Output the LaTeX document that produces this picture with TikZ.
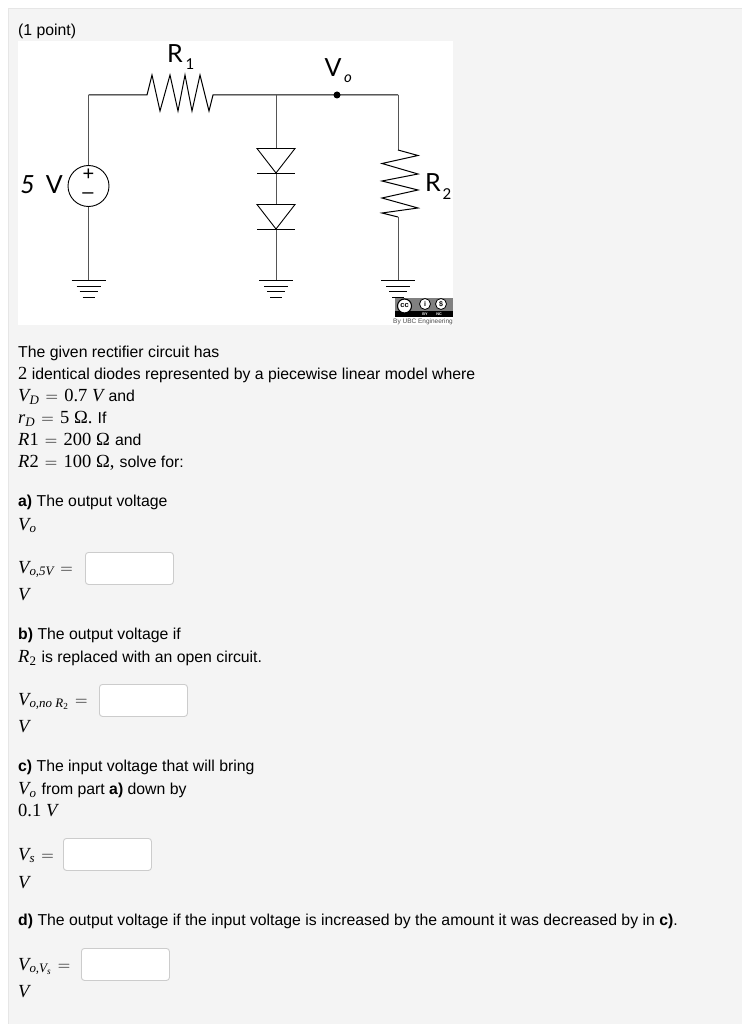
\documentclass[tikz,border=0pt]{standalone}
\usepackage{amsmath}
\usepackage{fontspec}
\setmainfont{Liberation Sans}
\newfontfamily\serifmath{Liberation Serif}
\newfontfamily\handfont{Lato}
\usetikzlibrary{positioning}
\definecolor{panelgray}{HTML}{F4F4F4}
\definecolor{panelline}{HTML}{E6E6E6}
\definecolor{wiregray}{HTML}{555555}
\definecolor{boxline}{HTML}{CCCCCC}
\newcommand{\mv}[1]{\text{\serifmath\itshape #1}}
\newcommand{\mr}[1]{\text{\serifmath #1}}
\newcommand{\seteq}{\mathrel{\mkern1.5mu=\mkern1.5mu}}
\newcommand{\mathsz}{\fontsize{18.5}{20}\selectfont}
\newcommand{\textsz}{\fontsize{15.8}{17}\selectfont}
\tikzset{
    txt/.style={anchor=base west,inner sep=0pt,yshift=-0.7pt,font=\textsz},
    mth/.style={anchor=base west,inner sep=0pt,font=\mathsz},
    hand/.style={inner sep=0pt,font=\handfont\fontsize{25}{28}\selectfont},
    handsub/.style={inner sep=0pt,font=\handfont\fontsize{15}{15}\selectfont},
    wire/.style={draw=wiregray,line width=1pt},
    topwire/.style={draw=black,line width=1pt},
    part/.style={draw=black,line width=0.9pt},
    badgeicon/.style={circle,draw=black,line width=0.8pt,fill=white,minimum size=11pt,inner sep=0pt,font=\bfseries\fontsize{7}{7}\selectfont},
    badgetag/.style={inner sep=0pt,text=white,font=\bfseries\fontsize{3.8}{4}\selectfont},
    answerbox/.style={draw=boxline,fill=white,rounded corners=3pt,line width=0.9pt,minimum width=88pt,minimum height=32pt,inner sep=0pt,anchor=north west},
}
\begin{document}
\begin{tikzpicture}[x=1pt,y=-1pt]
    \useasboundingbox (0,0) rectangle (742,1024);
    \fill[white] (0,0) rectangle (742,1024);
    \fill[panelgray] (8,8) rectangle (742,1024);
    \draw[panelline] (8,1024) -- (8,8) -- (742,8);
    \fill[white] (18,41) rectangle (453,325);
    % circuit points
    \coordinate (topleft) at (88.5,95);
    \coordinate (rone_in) at (147,95);
    \coordinate (rone_out) at (213,95);
    \coordinate (djoin) at (276,95);
    \coordinate (topright) at (398,95);
    \coordinate (rtwo_in) at (398,150);
    \coordinate (rtwo_out) at (398,217);
    \coordinate (gnd_a) at (88.5,280.5);
    \coordinate (gnd_b) at (276,280.5);
    \coordinate (gnd_c) at (398,280.5);
    \coordinate (done_top) at (276,148.5);
    \coordinate (done_bar) at (276,173);
    \coordinate (dtwo_top) at (276,204.5);
    \coordinate (dtwo_bar) at (276,229);
    \node[circle,part,fill=white,minimum size=41pt,inner sep=0pt] (source) at (88.5,186) {};
    \node[circle,fill=black,minimum size=7pt,inner sep=0pt] (vodot) at (337,95) {};
    \draw[topwire] (topleft) -- (rone_in) -- (152,75) -- (160,111) -- (170,75) -- (178,111) -- (185,75) -- (192,111) -- (200,75) -- (209,111) -- (rone_out) -- (topright);
    \draw[wire] (topleft) -- (source);
    \draw[wire] (source) -- (gnd_a);
    \draw[wire] (djoin) -- (done_top);
    \draw[wire] (done_bar) -- (dtwo_top);
    \draw[wire] (dtwo_bar) -- (gnd_b);
    \draw[wire] (topright) -- (rtwo_in);
    \draw[wire] (rtwo_out) -- (gnd_c);
    \draw[topwire] (rtwo_in) -- (418,155.5) -- (382,163.5) -- (418,174) -- (382,181) -- (418,190) -- (382,198) -- (418,208) -- (382,213) -- (rtwo_out);
    % diodes
    \foreach \dtop/\dbar in {done_top/done_bar,dtwo_top/dtwo_bar}{
        \draw[part] (\dtop) ++(-19,0) -- ++(38,0) -- (\dbar) -- cycle;
        \draw[part] (\dbar) ++(-19,0) -- ++(38,0);
    }
    % grounds
    \foreach \gnd in {gnd_a,gnd_b,gnd_c}{
        \draw[part] (\gnd) ++(-17,0) -- ++(34,0);
        \draw[part] (\gnd) ++(-12,5.5) -- ++(24,0);
        \draw[part] (\gnd) ++(-9,11) -- ++(18,0);
        \draw[part] (\gnd) ++(-6,16.5) -- ++(12,0);
    }
    \node[inner sep=0pt,font=\fontsize{20}{20}\selectfont] (plus) at (88.5,175) {+};
    \node[inner sep=0pt,font=\fontsize{20}{20}\selectfont] (minus) at (88,196) {\textendash};
    % hand labels
    \node[hand] (rone) at (175,54) {R};
    \node[handsub] (rone_sub) at (190,64) {1};
    \node[hand] (vo) at (333,68) {V};
    \node[handsub,font=\handfont\itshape\fontsize{15}{15}\selectfont] (vo_sub) at (348,79) {o};
    \node[hand] (fivev) at (41.5,185) {\textit{5}\hspace{11pt}V};
    \node[hand] (rtwo) at (433,183) {R};
    \node[handsub] (rtwo_sub) at (447,194) {2};
    % licence badge
    \fill[black!50] (395,297.5) rectangle (453,317);
    \fill[black] (395,310.5) rectangle (453,317);
    \node[circle,draw=black,line width=1.1pt,fill=white,minimum size=14pt,inner sep=0pt,font=\bfseries\fontsize{7.5}{7}\selectfont] (cc) at (404.5,306) {cc};
    \node[badgeicon] (ccby) at (425,304) {i};
    \node[badgeicon] (ccnc) at (441,304) {\$};
    \node[badgetag] (bytag) at (425,314) {BY};
    \node[badgetag] (nctag) at (439,314) {NC};
    \node[inner sep=0pt,text=black!70,font=\fontsize{6.5}{7}\selectfont,anchor=base east] (byubc) at (453,323.5) {By UBC Engineering};
    % text
    \node[txt] (points) at (18,35) {(1 point)};
    \node[txt] (intro) at (18,357) {The given rectifier circuit has};
    \node[txt] (lineb) at (18,379) {{\serifmath\mathsz 2} identical diodes represented by a piecewise linear model where};
    \node[txt] (vd) at (18,401) {\mathsz$\mv{V}_{\mv{D}}\seteq\mr{0.7}\;\mv{V}$ \textsz and};
    \node[txt] (rd) at (18,423) {\mathsz$\mv{r}_{\mv{D}}\seteq\mr{5}\;\mr{Ω.}$ \textsz If};
    \node[txt] (rvala) at (18,445) {\mathsz$\mv{R}\mr{1}\seteq\mr{200}\;\mr{Ω}$ \textsz and};
    \node[txt] (rvalb) at (18,467) {\mathsz$\mv{R}\mr{2}\seteq\mr{100}\;\mr{Ω,}$ \textsz solve for:};
    \node[txt] (parta) at (18,506) {\textbf{a)} The output voltage};
    \node[mth] (voa) at (18,530) {$\mv{V}_{\mv{o}}$};
    \node[mth] (vofive) at (18,573) {$\mv{V}_{\mv{o,5V}}\seteq$};
    \node[answerbox] (boxa) at (85,552) {};
    \node[mth] (unita) at (18,600) {$\mv{V}$};
    \node[txt] (partb) at (18,639) {\textbf{b)} The output voltage if};
    \node[txt] (open) at (18,662) {\mathsz$\mv{R}_{\mr{2}}$ \textsz is replaced with an open circuit.};
    \node[mth] (vono) at (18,705) {$\mv{V}_{\mv{o,no }\mv{R}_{\mr{2}}}\seteq$};
    \node[answerbox] (boxb) at (99,684) {};
    \node[mth] (unitb) at (18,732) {$\mv{V}$};
    \node[txt] (partc) at (18,771) {\textbf{c)} The input voltage that will bring};
    \node[txt] (from) at (18,794) {\mathsz$\mv{V}_{\mv{o}}$ \textsz from part \textbf{a)} down by};
    \node[mth] (tenth) at (18,816) {$\mr{0.1}\;\mv{V}$};
    \node[mth] (vs) at (18,860) {$\mv{V}_{\mv{s}}\seteq$};
    \node[answerbox] (boxc) at (63,838) {};
    \node[mth] (unitc) at (18,888) {$\mv{V}$};
    \node[txt] (partd) at (18,925) {\textbf{d)} The output voltage if the input voltage is increased by the amount it was decreased by in \textbf{c)}.};
    \node[mth] (vovs) at (18,970) {$\mv{V}_{\mv{o,}\mv{V}_{\mv{s}}}\seteq$};
    \node[answerbox] (boxd) at (81,948) {};
    \node[mth] (unitd) at (18,997) {$\mv{V}$};
\end{tikzpicture}
\end{document}
